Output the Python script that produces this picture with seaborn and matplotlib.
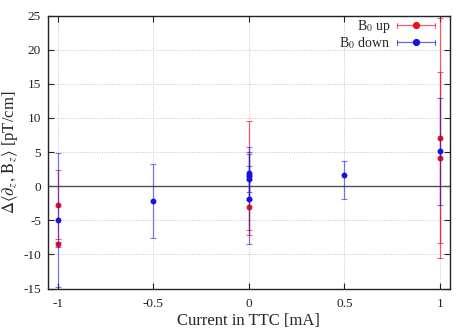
import numpy as np
import pandas as pd
import matplotlib
matplotlib.use("Agg")
import matplotlib.pyplot as plt
from matplotlib.lines import Line2D
from matplotlib.legend_handler import HandlerBase
import seaborn as sns

# B0 up measurements
x_up = [-1.0, -1.0, 0.0, 0.0, 1.0, 1.0]
y_up = [-2.7, -8.5, 1.6, -3.0, 7.1, 4.2]
err_up = [5.1, 0.4, 8.0, 4.1, 17.6, 12.5]

# B0 down measurements
x_down = [-1.0, -0.5, 0.0, 0.0, 0.0, 0.0, 0.5, 1.0]
y_down = [-5.0, -2.2, 2.0, 1.5, 1.1, -1.85, 1.6, 5.1]
err_down_lo = [9.8, 5.4, 3.7, 3.5, 1.9, 6.6, 3.5, 7.8]
err_down_hi = [9.8, 5.4, 3.7, 3.5, 1.9, 6.6, 2.1, 7.8]

x_ticks = [-1, -0.5, 0, 0.5, 1]
x_ticklabels = ["-1", "-0.5", "0", "0.5", "1"]
y_ticks = list(range(-15, 30, 5))

RED = "#e8101c"
BLUE = "#1414e0"

sns.set_theme(style="ticks")
plt.rcParams["font.family"] = ["Liberation Serif", "DejaVu Serif"]
plt.rcParams["mathtext.fontset"] = "stix"
plt.rcParams["axes.unicode_minus"] = False

fig = plt.figure(figsize=(4.74, 3.31), dpi=100)
ax = fig.add_axes([0.101, 0.128, 0.848, 0.825])

df_up = pd.DataFrame({"x": x_up, "y": y_up})
df_down = pd.DataFrame({"x": x_down, "y": y_down})

ax.axhline(0, color="#505050", lw=1.0, zorder=1)

ax.errorbar(x_up, y_up, yerr=err_up, fmt="none", ecolor=RED, elinewidth=0.9,
            capsize=2.2, capthick=0.8, alpha=0.65, zorder=2)
sns.scatterplot(data=df_up, x="x", y="y", color=RED, s=18, linewidth=0,
                ax=ax, zorder=3)
ax.errorbar(x_down, y_down, yerr=[err_down_lo, err_down_hi], fmt="none",
            ecolor=BLUE, elinewidth=0.9, capsize=2.2, capthick=0.8,
            alpha=0.55, zorder=4)
sns.scatterplot(data=df_down, x="x", y="y", color=BLUE, s=18, linewidth=0,
                ax=ax, zorder=5)

ax.set_xlim(-1.052, 1.052)
ax.set_ylim(-15, 25)
ax.set_xticks(x_ticks)
ax.set_xticklabels(x_ticklabels)
ax.set_yticks(y_ticks)

ax.grid(True, color="#c4c4c4", linestyle=(0, (1, 1.5)), linewidth=0.7)
ax.set_axisbelow(True)
for s in ax.spines.values():
    s.set_color("#222222")
    s.set_linewidth(1.0)
ax.tick_params(direction="in", length=4, width=0.8, top=True, right=True,
               labelsize=9.5, pad=5, colors="#222222")
ax.tick_params(axis="x", pad=7)

ax.set_xlabel("Current in TTC [mA]", fontsize=12, labelpad=2)
ax.set_ylabel(r"$\Delta\langle\partial_z,\,\mathrm{B}_z\rangle$ [pT/cm]",
              fontsize=12, labelpad=2)


class HorizontalErrorbarHandler(HandlerBase):
    """Legend key drawn as a horizontal error bar with a point in the middle."""

    def create_artists(self, legend, orig_handle, xdescent, ydescent, width,
                       height, fontsize, trans):
        c = orig_handle.get_color()
        yc = height / 2 - ydescent
        x0, x1 = -xdescent, width - xdescent
        h = height * 0.3
        arts = [
            Line2D([x0, x1], [yc, yc], color=c, lw=0.9, alpha=0.65),
            Line2D([x0, x0], [yc - h, yc + h], color=c, lw=0.8, alpha=0.65),
            Line2D([x1, x1], [yc - h, yc + h], color=c, lw=0.8, alpha=0.65),
            Line2D([(x0 + x1) / 2], [yc], marker="o", color=c, ms=4.2,
                   linestyle="none"),
        ]
        for a in arts:
            a.set_transform(trans)
        return arts


h_up = Line2D([], [], color=RED)
h_down = Line2D([], [], color=BLUE)
ax.legend([h_up, h_down], [r"B$_0$ up", r"B$_0$ down"],
          handler_map={Line2D: HorizontalErrorbarHandler()},
          loc="upper right", frameon=False, markerfirst=False,
          fontsize=10, handlelength=2.7, handletextpad=0.5,
          labelspacing=0.0, borderpad=0.0, borderaxespad=0.0,
          bbox_to_anchor=(0.963, 0.99))

fig.savefig("out.png", dpi=100)
